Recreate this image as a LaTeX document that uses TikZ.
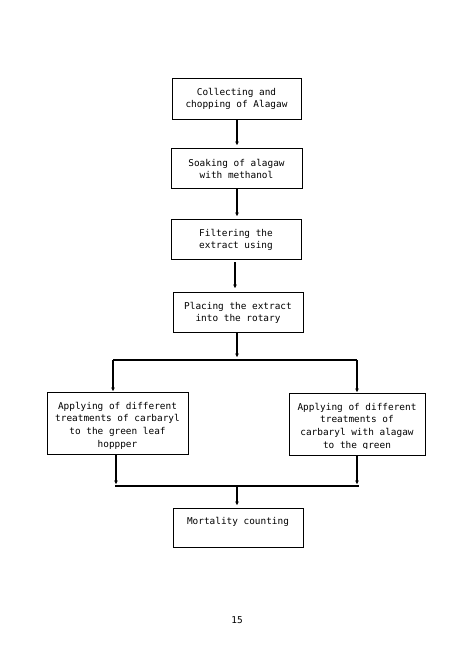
\documentclass[tikz,border=0pt]{standalone}
\usepackage{fontspec}
\setmonofont{DejaVu Sans Mono}
\usetikzlibrary{arrows.meta}
\begin{document}
\begin{tikzpicture}[x=1pt,y=-1pt,
  box/.style={draw=black,line width=0.9pt},
  txt/.style={font=\ttfamily\fontsize{9.4}{12.7}\selectfont,align=center,inner sep=0pt,anchor=base},
  conn/.style={line width=1.5pt,-{Stealth[length=3.5pt,width=3.5pt]}},
  plain/.style={line width=1.5pt}]
\fill[white] (0,0) rectangle (474,670);
\useasboundingbox (0,0) rectangle (474,670);
% boxes
\draw[box] (172,78) rectangle (301,119);
\draw[box] (171,148) rectangle (302,188);
\draw[box] (171,219) rectangle (301,259);
\draw[box] (173,292) rectangle (303,332);
\draw[box] (47,392) rectangle (188,454);
\draw[box] (289,393) rectangle (425,455);
\draw[box] (173,508) rectangle (303,547);
% named anchors
\coordinate (b1s) at (237,120); \coordinate (b2n) at (237,145);
\coordinate (b2s) at (237,189); \coordinate (b3n) at (237,216);
\coordinate (b3s) at (235,262); \coordinate (b4n) at (235,288);
\coordinate (b4s) at (237,333); \coordinate (sp) at (237,357);
\coordinate (hl) at (113,360); \coordinate (hr) at (357,360);
\coordinate (b5n) at (113,391); \coordinate (b6n) at (357,392);
\coordinate (b5s) at (116,455); \coordinate (b6s) at (357,456);
\coordinate (m5) at (116,484); \coordinate (m6) at (357,484);
\coordinate (ml) at (115,486); \coordinate (mr) at (359,486);
\coordinate (mc) at (237,486); \coordinate (b7n) at (237,505);
% texts (base anchor = last line baseline)
\node[txt] (t1) at (236.5,107.7) {Collecting and\\chopping of Alagaw};
\node[txt] (t2) at (236.5,178.7) {Soaking of alagaw\\with methanol};
\node[txt] (t3) at (236,248.7) {Filtering the\\extract using};
\node[txt] (t4) at (238,321.7) {Placing the extract\\into the rotary};
\begin{scope}
\clip (48,393) rectangle (187,448.5);
\node[txt] (t5) at (117.5,447.1) {Applying of different\\treatments of carbaryl\\to the green leaf\\hoppper};
\end{scope}
\begin{scope}
\clip (290,394) rectangle (424,448.5);
\node[txt] (t6) at (357,448.1) {Applying of different\\treatments of\\carbaryl with alagaw\\to the green};
\end{scope}
\node[txt] (t7) at (238,524.5) {Mortality counting};
\node[txt] (pg) at (237,623) {15};
% connectors
\draw[conn] (b1s) -- (b2n);
\draw[conn] (b2s) -- (b3n);
\draw[conn] (b3s) -- (b4n);
\draw[conn] (b4s) -- (sp);
\draw[plain] (hl) -- (hr);
\draw[conn] (hl) -- (b5n);
\draw[conn] (hr) -- (b6n);
\draw[conn] (b5s) -- (m5);
\draw[conn] (b6s) -- (m6);
\draw[plain] (ml) -- (mr);
\draw[conn] (mc) -- (b7n);
\end{tikzpicture}
\end{document}
